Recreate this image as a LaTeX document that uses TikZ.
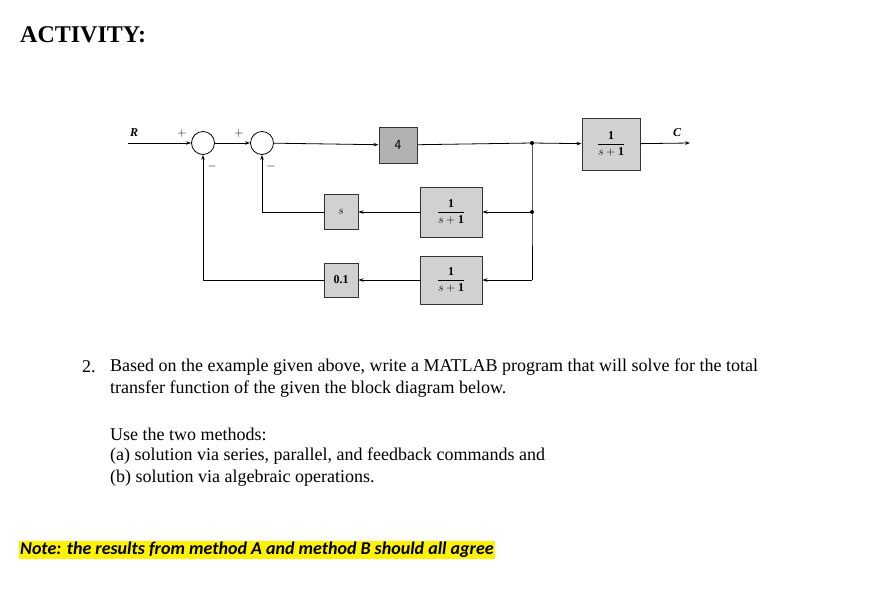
\documentclass[tikz,border=0pt]{standalone}
\usepackage{fontspec}
\setmainfont{Liberation Serif}
\newfontfamily\notefont{Carlito}
\usetikzlibrary{arrows.meta}
\begin{document}
\begin{tikzpicture}[x=1pt,y=-1pt,
  blk/.style={draw=black!80,line width=1pt,fill=black!18,inner sep=0pt,font=\fontsize{12}{13}\selectfont\bfseries},
  sumc/.style={draw,circle,minimum size=23pt,inner sep=0pt,fill=white,line width=0.8pt},
  sig/.style={line width=0.8pt,-{Stealth[length=5pt,width=3.5pt]}},
  ln/.style={line width=0.8pt},
  sg/.style={font=\fontsize{12}{12}\selectfont},
  txt/.style={anchor=west,font=\fontsize{18}{21}\selectfont,inner sep=0pt}]
\useasboundingbox (0,0) rectangle (872,598);
\node[anchor=west,inner sep=0pt,font=\fontsize{24}{26}\selectfont\bfseries] (title) at (20,35) {ACTIVITY:};
% diagram
\coordinate (R) at (128,143);
\node[sumc] (s1) at (203,143) {};
\node[sumc] (s2) at (262,143) {};
\node[blk,minimum width=38pt,minimum height=36pt,fill=black!30] (b4) at (398,145) {\fontsize{14}{14}\selectfont\mdseries\sffamily 4};
\node[blk,minimum width=58pt,minimum height=52pt] (bo) at (611,144) {$\displaystyle\frac{\mathbf{1}}{s+\mathbf{1}}$};
\coordinate (C) at (690,143);
\coordinate (j1) at (532,143);
\coordinate (j2) at (532,212);
\node[blk,minimum width=62pt,minimum height=50pt] (bm) at (451,212) {$\displaystyle\frac{\mathbf{1}}{s+\mathbf{1}}$};
\node[blk,minimum width=34pt,minimum height=35pt] (bs) at (341,212) {$s$};
\node[blk,minimum width=62pt,minimum height=48pt] (bb) at (451,280) {$\displaystyle\frac{\mathbf{1}}{s+\mathbf{1}}$};
\node[blk,minimum width=34pt,minimum height=34pt] (b01) at (341,280) {0.1};
\draw[sig] (R) -- (s1);
\draw[sig] (s1) -- (s2);
\draw[sig] (s2) -- (b4);
\draw[ln] (b4) -- (j1);
\draw[sig] (j1) -- (bo);
\draw[sig] (bo) -- (C);
\draw[ln] (j1) -- (j2) -- (j2 |- bb);
\draw[sig] (j2) -- (bm);
\draw[sig] (j2 |- bb) -- (bb);
\draw[sig] (bm) -- (bs);
\draw[sig] (bb) -- (b01);
\draw[sig] (bs.west) -| (s2.south);
\draw[sig] (b01.west) -| (s1.south);
\fill (j1) circle (2pt) (j2) circle (2pt);
\node[sg,font=\fontsize{12}{12}\selectfont\itshape\bfseries] (rl) at (134,133) {R};
\node[sg] (p1) at (182,133) {$+$};
\node[sg] (p2) at (239,133) {$+$};
\node[sg] (m1) at (212,166) {$-$};
\node[sg] (m2) at (271,166) {$-$};
\node[sg,font=\fontsize{12}{12}\selectfont\itshape\bfseries] (cl) at (677,133) {C};
% text
\node[txt] (n2) at (82,367) {2.};
\node[txt] (t1) at (110,367) {Based on the example given above, write a MATLAB program that will solve for the total};
\node[txt] (t2) at (110,389) {transfer function of the given the block diagram below.};
\node[txt] (t3) at (110,434) {Use the two methods:};
\node[txt] (t4) at (110,456) {(a) solution via series, parallel, and feedback commands and};
\node[txt] (t5) at (110,478) {(b) solution via algebraic operations.};
\node[anchor=west,inner sep=1pt,fill=yellow,font=\notefont\fontsize{18}{20}\selectfont\bfseries\itshape] (note) at (19,550) {Note: the results from method A and method B should all agree};
\end{tikzpicture}
\end{document}
